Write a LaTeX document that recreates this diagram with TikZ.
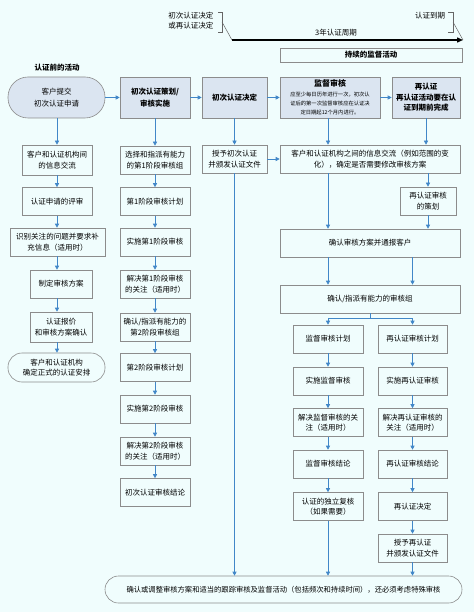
\documentclass[tikz,border=0pt]{standalone}
\usepackage{fontspec}
\setmainfont{Noto Sans CJK SC}
\usetikzlibrary{arrows.meta}
\definecolor{fond}{RGB}{240,253,253}
\definecolor{entete}{RGB}{219,229,241}
\definecolor{bord}{RGB}{140,140,140}
\definecolor{fleche}{RGB}{65,135,200}

\begin{document}
\begin{tikzpicture}[x=1pt,y=-1pt,
	boite/.style={draw=bord,line width=0.6pt,minimum height=28pt,inner sep=1pt,align=center,font=\fontsize{7.5}{10.5}\selectfont},
	entetebox/.style={boite,fill=entete,minimum height=41pt,font=\fontsize{7.5}{11.5}\selectfont\bfseries},
	capsule/.style={boite,rounded corners=14pt},
	fl/.style={draw=fleche,line width=0.6pt,-{Triangle[length=4pt,width=4pt]}},
	crochet/.style={draw=black!60,line width=0.5pt}]
	\fill[fond] (0,0) rectangle (474,612); % le fond
	% la ligne du temps
	\node[font=\fontsize{7.5}{10}\selectfont,align=right,anchor=east] (decision) at (217,21) {初次认证决定\\或再认证决定};
	\node[font=\fontsize{7.5}{10}\selectfont] (expiration) at (430,16) {认证到期};
	\coordinate (debut) at (232,40);
	\coordinate (fin) at (463,40);
	\draw[crochet] (218,12) -- (222,12) -- (222,32) -- (218,32);
	\draw[crochet] (222,22) -- (debut);
	\draw[crochet] (448,12) -- (453,12) -- (453,32) -- (448,32);
	\draw[crochet] (453,22) -- (fin);
	\draw[line width=1.4pt,-{Triangle[length=6pt,width=5pt]}] (debut) -- (fin);
	\node[font=\fontsize{7.5}{10}\selectfont] (cycle) at (336,33) {3年认证周期};
	\node[boite,minimum width=182pt,minimum height=14pt,font=\fontsize{7.5}{10}\selectfont\bfseries] (suivi) at (371,55) {持续的监督活动};
	\node[font=\fontsize{7.5}{10}\selectfont\bfseries] (avant) at (57,68) {认证前的活动};
	% les en-tetes
	\node[entetebox,rounded corners=20pt,minimum width=97pt,font=\fontsize{7.5}{11.5}\selectfont] (h1) at (56.5,97.5) {客户提交\\初次认证申请};
	\node[entetebox,minimum width=70pt] (h2) at (155,97.5) {初次认证策划/\\审核实施};
	\node[entetebox,minimum width=65pt] (h3) at (234.5,97.5) {初次认证决定};
	\node[entetebox,minimum width=100pt,font=\fontsize{8}{9}\selectfont\bfseries] (h4) at (330,97.5) {监督审核\\[1pt]\fontsize{5.3}{6}\selectfont\mdseries 应至少每日历年进行一次，初次认\\\fontsize{5.3}{6}\selectfont\mdseries 证后的第一次监督审核应在认证决\\\fontsize{5.3}{6}\selectfont\mdseries 定日期起12个月内进行。};
	\node[entetebox,minimum width=68pt,font=\fontsize{7.5}{10.5}\selectfont\bfseries] (h5) at (426,97.5) {再认证\\再认证活动要在认\\证到期前完成};
	% colonne 1
	\node[boite,minimum width=70pt,minimum height=30pt] (a1) at (57,160) {客户和认证机构间\\的信息交流};
	\node[boite,minimum width=70pt] (a2) at (57,201.5) {认证申请的评审};
	\node[boite,minimum width=95pt] (a3) at (57.5,242) {识别关注的问题并要求补\\充信息（适用时）};
	\node[boite,minimum width=62pt] (a4) at (61,284) {制定审核方案};
	\node[boite,minimum width=62pt,minimum height=30pt] (a5) at (61,327) {认证报价\\和审核方案确认};
	\node[capsule,minimum width=97pt,minimum height=29pt] (a6) at (56.5,367.5) {客户和认证机构\\确定正式的认证安排};
	% colonne 2
	\foreach \nom/\y/\texte in {b1/160/{选择和指派有能力\\的第1阶段审核组}, b2/201.5/{第1阶段审核计划}, b3/242/{实施第1阶段审核}, b4/284/{解决第1阶段审核\\的关注（适用时）}, b5/327/{确认/指派有能力的\\第2阶段审核组}, b6/367.5/{第2阶段审核计划}, b7/409/{实施第2阶段审核}, b8/451/{解决第2阶段审核\\的关注（适用时）}, b9/492.5/{初次认证审核结论}}{
		\node[boite,minimum width=70pt] (\nom) at (155,\y) {\texte};}
	% colonne 3 et suivantes
	\node[boite,minimum width=65pt] (c1) at (234.5,159) {授予初次认证\\并颁发认证文件};
	\node[boite,minimum width=180pt] (m1) at (370,159) {客户和认证机构之间的信息交流（例如范围的变\\化），确定是否需要修改审核方案};
	\node[boite,minimum width=56pt] (plan) at (428,201) {再认证审核\\的策划};
	\node[boite,minimum width=180pt] (m2) at (370,243) {确认审核方案并通报客户};
	\node[boite,minimum width=180pt] (m3) at (370,299) {确认/指派有能力的审核组};
	\foreach \nom/\y/\texte in {s1/339/{监督审核计划}, s2/381/{实施监督审核}, s3/422.5/{解决监督审核的关\\注（适用时）}, s4/464/{监督审核结论}, s5/506.5/{认证的独立复核\\（如果需要）}}{
		\node[boite,minimum width=70pt] (\nom) at (328,\y) {\texte};}
	\foreach \nom/\y/\texte in {r1/339/{再认证审核计划}, r2/381/{实施再认证审核}, r3/422.5/{解决再认证审核的\\关注（适用时）}, r4/464/{再认证审核结论}, r5/506.5/{再认证决定}, r6/548/{授予再认证\\并颁发认证文件}}{
		\node[boite,minimum width=69pt] (\nom) at (412.5,\y) {\texte};}
	\node[capsule,minimum width=357pt,minimum height=27pt,rounded corners=13.5pt,font=\fontsize{7.3}{10}\selectfont] (ajust) at (283.5,589.5) {确认或调整审核方案和适当的跟踪审核及监督活动（包括频次和持续时间），还必须考虑特殊审核};
	% les fleches
	\foreach \i/\j in {h1/h2,h2/h3,h3/h4,h4/h5}{
		\draw[fl] (\i) -- (\j);}
	\foreach \i/\j in {h1/a1,a1/a2,a2/a3,a3/a4,a4/a5,a5/a6}{
		\draw[fl] (\i.south -| a1) -- (\j.north -| a1);}
	\foreach \i/\j in {h2/b1,b1/b2,b2/b3,b3/b4,b4/b5,b5/b6,b6/b7,b7/b8,b8/b9,s1/s2,s2/s3,s3/s4,s4/s5,r1/r2,r2/r3,r3/r4,r4/r5,r5/r6}{
		\draw[fl] (\i) -- (\j);}
	\draw[fl] (h3) -- (c1);
	\draw[fl] (c1) -- (m1);
	\draw[fl] (c1.south) -- (c1.south |- ajust.north);
	\draw[fl] (h4.south -| s1) -- (m1.north -| s1);
	\draw[fl] (h5.south) -- (h5.south |- m1.north);
	\draw[fl] (m1.south -| plan) -- (plan.north);
	\draw[fl] (m1.south -| s1) -- (m2.north -| s1);
	\draw[fl] (plan.south) -- (plan.south |- m2.north);
	\draw[fl] (m2.south -| s1) -- (m3.north -| s1);
	\draw[fl] (m2.south -| r1) -- (m3.north -| r1);
	\coordinate (partage) at (370,318);
	\draw[draw=fleche,line width=0.6pt] (m3.south) -- (partage);
	\draw[fl] (partage) -| (s1.north);
	\draw[fl] (partage) -| (r1.north);
	\draw[fl] (s5.south) -- (s5.south |- ajust.north);
	\draw[fl] (r6.south) -- (r6.south |- ajust.north);
\end{tikzpicture}
\end{document}
